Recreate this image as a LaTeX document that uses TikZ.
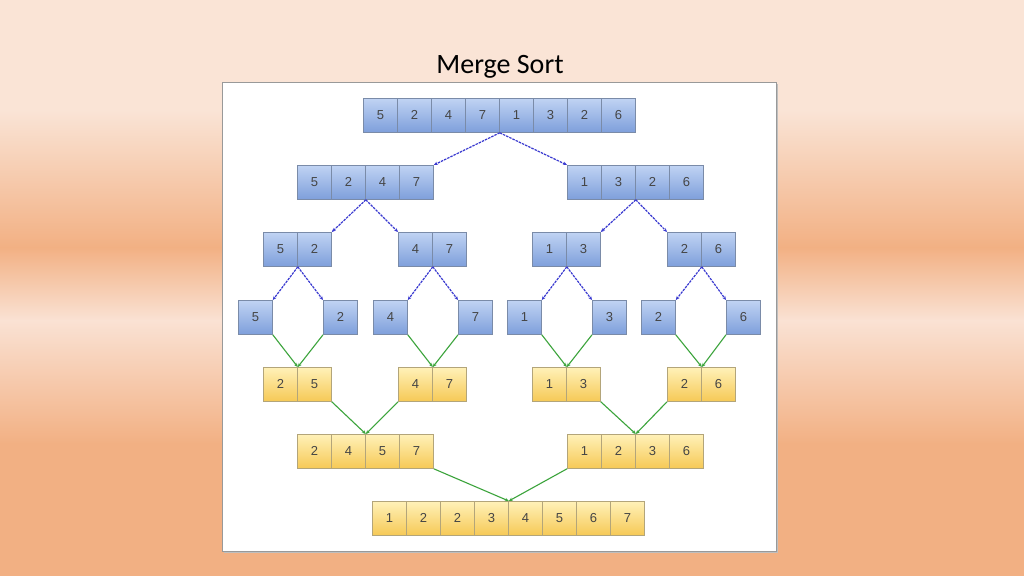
\documentclass[tikz,border=0pt]{standalone}
\usepackage{fontspec}
\setmainfont{Liberation Sans}
\newfontfamily\titlefont{Carlito}
\usetikzlibrary{arrows.meta}
\definecolor{bgA}{HTML}{FAE4D6}
\definecolor{bgB}{HTML}{F2B083}
\definecolor{bgC}{HTML}{FAE2D4}
\definecolor{bluetop}{HTML}{C0D3F3}
\definecolor{bluebot}{HTML}{7E9FDB}
\definecolor{blueedge}{HTML}{7A8BA8}
\definecolor{yeltop}{HTML}{FFF1B8}
\definecolor{yelbot}{HTML}{F6C956}
\definecolor{yeledge}{HTML}{B3A57A}
\definecolor{digit}{HTML}{454545}
\definecolor{splitc}{HTML}{3A3AD0}
\definecolor{mergec}{HTML}{3CA43C}
\tikzset{
  cellbase/.style={draw, line width=0.8pt, minimum width=34pt, minimum height=34pt,
    inner sep=0pt, anchor=north west, font=\fontsize{13}{13}\selectfont, text=digit},
  bluecell/.style={cellbase, draw=blueedge, top color=bluetop, bottom color=bluebot},
  yelcell/.style={cellbase, draw=yeledge, top color=yeltop, bottom color=yelbot},
  splitarrow/.style={draw=splitc, line width=1.2pt, dash pattern=on 2.5pt off 1pt,
    -{Stealth[length=4pt,width=3.5pt]}},
  mergearrow/.style={draw=mergec, line width=1.1pt, -{Stealth[length=4pt,width=3.5pt]}}
}
\newcommand\cellrow[5]{%
  \foreach \d [count=\i] in {#5} {
    \node[#4] (#1-\i) at ({#2+(\i-1)*34}, #3) {\d};
  }}
\begin{document}
\begin{tikzpicture}[x=1pt,y=-1pt]
\useasboundingbox (0,0) rectangle (1024,576);
% background
\fill[bgA] (0,0) rectangle (1024,111);
\shade[top color=bgA, bottom color=bgB] (0,110) rectangle (1024,248);
\shade[top color=bgB, bottom color=bgC] (0,247) rectangle (1024,321);
\shade[top color=bgC, bottom color=bgB] (0,320) rectangle (1024,444);
\fill[bgB] (0,443) rectangle (1024,576);
% title
\node[anchor=base, font=\titlefont\fontsize{28}{28}\selectfont, text=black] (title) at (500,73) {Merge Sort};
% panel
\fill[black!25] (224,84) rectangle (778,553);
\draw[fill=white, draw=black!40, line width=1pt] (222,82) rectangle (776,551);
% rows
\cellrow{t}{363}{98}{bluecell}{5,2,4,7,1,3,2,6}
\cellrow{L}{297}{165}{bluecell}{5,2,4,7}
\cellrow{R}{567}{165}{bluecell}{1,3,2,6}
\cellrow{A}{263}{232}{bluecell}{5,2}
\cellrow{B}{398}{232}{bluecell}{4,7}
\cellrow{C}{532}{232}{bluecell}{1,3}
\cellrow{D}{667}{232}{bluecell}{2,6}
\node[bluecell] (s1) at (238,300) {5};
\node[bluecell] (s2) at (323,300) {2};
\node[bluecell] (s3) at (373,300) {4};
\node[bluecell] (s4) at (458,300) {7};
\node[bluecell] (s5) at (507,300) {1};
\node[bluecell] (s6) at (592,300) {3};
\node[bluecell] (s7) at (641,300) {2};
\node[bluecell] (s8) at (726,300) {6};
\cellrow{m1}{263}{367}{yelcell}{2,5}
\cellrow{m2}{398}{367}{yelcell}{4,7}
\cellrow{m3}{532}{367}{yelcell}{1,3}
\cellrow{m4}{667}{367}{yelcell}{2,6}
\cellrow{n1}{297}{434}{yelcell}{2,4,5,7}
\cellrow{n2}{567}{434}{yelcell}{1,2,3,6}
\cellrow{f}{372}{501}{yelcell}{1,2,2,3,4,5,6,7}
% split arrows
\draw[splitarrow] (t-4.south east) -- (L-4.north east);
\draw[splitarrow] (t-4.south east) -- (R-1.north west);
\draw[splitarrow] (L-2.south east) -- (A-2.north east);
\draw[splitarrow] (L-2.south east) -- (B-1.north west);
\draw[splitarrow] (R-2.south east) -- (C-2.north east);
\draw[splitarrow] (R-2.south east) -- (D-1.north west);
\draw[splitarrow] (A-1.south east) -- (s1.north east);
\draw[splitarrow] (A-1.south east) -- (s2.north west);
\draw[splitarrow] (B-1.south east) -- (s3.north east);
\draw[splitarrow] (B-1.south east) -- (s4.north west);
\draw[splitarrow] (C-1.south east) -- (s5.north east);
\draw[splitarrow] (C-1.south east) -- (s6.north west);
\draw[splitarrow] (D-1.south east) -- (s7.north east);
\draw[splitarrow] (D-1.south east) -- (s8.north west);
% merge arrows
\draw[mergearrow] (s1.south east) -- (m1-1.north east);
\draw[mergearrow] (s2.south west) -- (m1-1.north east);
\draw[mergearrow] (s3.south east) -- (m2-1.north east);
\draw[mergearrow] (s4.south west) -- (m2-1.north east);
\draw[mergearrow] (s5.south east) -- (m3-1.north east);
\draw[mergearrow] (s6.south west) -- (m3-1.north east);
\draw[mergearrow] (s7.south east) -- (m4-1.north east);
\draw[mergearrow] (s8.south west) -- (m4-1.north east);
\draw[mergearrow] (m1-2.south east) -- (n1-2.north east);
\draw[mergearrow] (m2-1.south west) -- (n1-2.north east);
\draw[mergearrow] (m3-2.south east) -- (n2-2.north east);
\draw[mergearrow] (m4-1.south west) -- (n2-2.north east);
\draw[mergearrow] (n1-4.south east) -- (f-4.north east);
\draw[mergearrow] (n2-1.south west) -- (f-4.north east);
\end{tikzpicture}
\end{document}
